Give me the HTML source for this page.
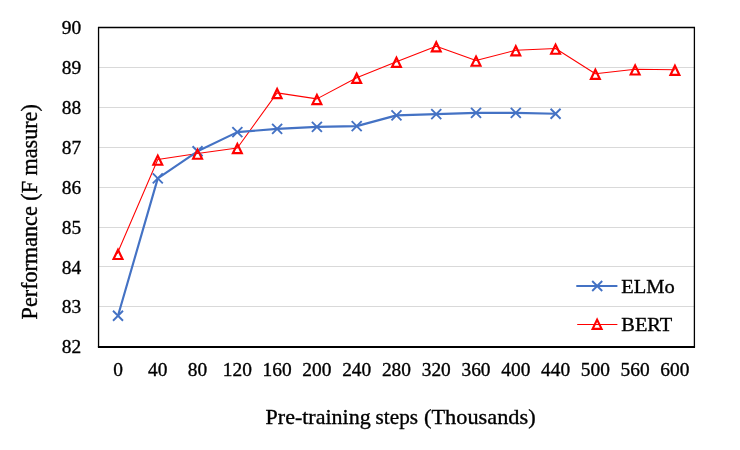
<!DOCTYPE html>
<html><head><meta charset="utf-8"><title>chart</title>
<style>
html,body{margin:0;padding:0;background:#fff;}
svg{display:block;}
text{font-family:"Liberation Serif",serif;fill:#000;stroke:#000;stroke-width:0.35px;}
</style></head><body>
<svg width="740" height="450" viewBox="0 0 740 450">
<rect x="0" y="0" width="740" height="450" fill="#ffffff"/>
<line x1="98.55" x2="694.4" y1="306.50" y2="306.50" stroke="#d9d9d9" stroke-width="1"/>
<line x1="98.55" x2="694.4" y1="266.50" y2="266.50" stroke="#d9d9d9" stroke-width="1"/>
<line x1="98.55" x2="694.4" y1="227.50" y2="227.50" stroke="#d9d9d9" stroke-width="1"/>
<line x1="98.55" x2="694.4" y1="187.50" y2="187.50" stroke="#d9d9d9" stroke-width="1"/>
<line x1="98.55" x2="694.4" y1="147.50" y2="147.50" stroke="#d9d9d9" stroke-width="1"/>
<line x1="98.55" x2="694.4" y1="107.50" y2="107.50" stroke="#d9d9d9" stroke-width="1"/>
<line x1="98.55" x2="694.4" y1="67.50" y2="67.50" stroke="#d9d9d9" stroke-width="1"/>
<polyline points="117.20,253.77 157.78,159.55 197.56,153.56 237.34,147.97 277.12,92.88 316.90,98.87 356.68,77.71 396.46,61.74 436.24,46.16 476.02,60.54 515.80,50.16 555.58,48.56 595.36,73.71 635.14,69.32 674.92,69.72" fill="none" stroke="#ff0000" stroke-width="1.05" stroke-linejoin="round"/>
<polyline points="118.00,315.76 157.78,178.42 197.56,151.27 237.34,132.10 277.12,128.91 316.90,126.91 356.68,126.11 396.46,115.34 436.24,114.14 476.02,112.94 515.80,112.94 555.58,113.74" fill="none" stroke="#4472c4" stroke-width="2.15" stroke-linejoin="round" stroke-linecap="round"/>
<path d="M113.00,310.76 L123.00,320.76 M113.00,320.76 L123.00,310.76" fill="none" stroke="#4472c4" stroke-width="1.9"/>
<path d="M152.78,173.42 L162.78,183.42 M152.78,183.42 L162.78,173.42" fill="none" stroke="#4472c4" stroke-width="1.9"/>
<path d="M192.56,146.27 L202.56,156.27 M192.56,156.27 L202.56,146.27" fill="none" stroke="#4472c4" stroke-width="1.9"/>
<path d="M232.34,127.10 L242.34,137.10 M232.34,137.10 L242.34,127.10" fill="none" stroke="#4472c4" stroke-width="1.9"/>
<path d="M272.12,123.91 L282.12,133.91 M272.12,133.91 L282.12,123.91" fill="none" stroke="#4472c4" stroke-width="1.9"/>
<path d="M311.90,121.91 L321.90,131.91 M311.90,131.91 L321.90,121.91" fill="none" stroke="#4472c4" stroke-width="1.9"/>
<path d="M351.68,121.11 L361.68,131.11 M351.68,131.11 L361.68,121.11" fill="none" stroke="#4472c4" stroke-width="1.9"/>
<path d="M391.46,110.34 L401.46,120.34 M391.46,120.34 L401.46,110.34" fill="none" stroke="#4472c4" stroke-width="1.9"/>
<path d="M431.24,109.14 L441.24,119.14 M431.24,119.14 L441.24,109.14" fill="none" stroke="#4472c4" stroke-width="1.9"/>
<path d="M471.02,107.94 L481.02,117.94 M471.02,117.94 L481.02,107.94" fill="none" stroke="#4472c4" stroke-width="1.9"/>
<path d="M510.80,107.94 L520.80,117.94 M510.80,117.94 L520.80,107.94" fill="none" stroke="#4472c4" stroke-width="1.9"/>
<path d="M550.58,108.74 L560.58,118.74 M550.58,118.74 L560.58,108.74" fill="none" stroke="#4472c4" stroke-width="1.9"/>
<path d="M118.00,249.82 L122.45,258.97 L113.55,258.97 Z" fill="none" stroke="#ff0000" stroke-width="2.15" stroke-linejoin="miter"/>
<path d="M157.78,155.60 L162.23,164.75 L153.33,164.75 Z" fill="none" stroke="#ff0000" stroke-width="2.15" stroke-linejoin="miter"/>
<path d="M197.56,149.61 L202.01,158.76 L193.11,158.76 Z" fill="none" stroke="#ff0000" stroke-width="2.15" stroke-linejoin="miter"/>
<path d="M237.34,144.02 L241.79,153.17 L232.89,153.17 Z" fill="none" stroke="#ff0000" stroke-width="2.15" stroke-linejoin="miter"/>
<path d="M277.12,88.93 L281.57,98.08 L272.67,98.08 Z" fill="none" stroke="#ff0000" stroke-width="2.15" stroke-linejoin="miter"/>
<path d="M316.90,94.92 L321.35,104.07 L312.45,104.07 Z" fill="none" stroke="#ff0000" stroke-width="2.15" stroke-linejoin="miter"/>
<path d="M356.68,73.76 L361.13,82.91 L352.23,82.91 Z" fill="none" stroke="#ff0000" stroke-width="2.15" stroke-linejoin="miter"/>
<path d="M396.46,57.79 L400.91,66.94 L392.01,66.94 Z" fill="none" stroke="#ff0000" stroke-width="2.15" stroke-linejoin="miter"/>
<path d="M436.24,42.21 L440.69,51.36 L431.79,51.36 Z" fill="none" stroke="#ff0000" stroke-width="2.15" stroke-linejoin="miter"/>
<path d="M476.02,56.59 L480.47,65.74 L471.57,65.74 Z" fill="none" stroke="#ff0000" stroke-width="2.15" stroke-linejoin="miter"/>
<path d="M515.80,46.21 L520.25,55.36 L511.35,55.36 Z" fill="none" stroke="#ff0000" stroke-width="2.15" stroke-linejoin="miter"/>
<path d="M555.58,44.61 L560.03,53.76 L551.13,53.76 Z" fill="none" stroke="#ff0000" stroke-width="2.15" stroke-linejoin="miter"/>
<path d="M595.36,69.76 L599.81,78.91 L590.91,78.91 Z" fill="none" stroke="#ff0000" stroke-width="2.15" stroke-linejoin="miter"/>
<path d="M635.14,65.37 L639.59,74.52 L630.69,74.52 Z" fill="none" stroke="#ff0000" stroke-width="2.15" stroke-linejoin="miter"/>
<path d="M674.92,65.77 L679.37,74.92 L670.47,74.92 Z" fill="none" stroke="#ff0000" stroke-width="2.15" stroke-linejoin="miter"/>
<path d="M98.55,346.9 L98.55,27.5 L694.4,27.5 L694.4,346.9" fill="none" stroke="#000" stroke-width="1.3"/>
<line x1="97.89999999999999" x2="695.05" y1="347" y2="347" stroke="#000" stroke-width="2"/>
<text x="81.1" y="353.40" font-size="19.4" text-anchor="end">82</text>
<text x="81.1" y="313.47" font-size="19.4" text-anchor="end">83</text>
<text x="81.1" y="273.55" font-size="19.4" text-anchor="end">84</text>
<text x="81.1" y="233.62" font-size="19.4" text-anchor="end">85</text>
<text x="81.1" y="193.70" font-size="19.4" text-anchor="end">86</text>
<text x="81.1" y="153.77" font-size="19.4" text-anchor="end">87</text>
<text x="81.1" y="113.85" font-size="19.4" text-anchor="end">88</text>
<text x="81.1" y="73.93" font-size="19.4" text-anchor="end">89</text>
<text x="81.1" y="34.00" font-size="19.4" text-anchor="end">90</text>
<text x="118.00" y="375.5" font-size="19.4" text-anchor="middle">0</text>
<text x="157.78" y="375.5" font-size="19.4" text-anchor="middle">40</text>
<text x="197.56" y="375.5" font-size="19.4" text-anchor="middle">80</text>
<text x="237.34" y="375.5" font-size="19.4" text-anchor="middle">120</text>
<text x="277.12" y="375.5" font-size="19.4" text-anchor="middle">160</text>
<text x="316.90" y="375.5" font-size="19.4" text-anchor="middle">200</text>
<text x="356.68" y="375.5" font-size="19.4" text-anchor="middle">240</text>
<text x="396.46" y="375.5" font-size="19.4" text-anchor="middle">280</text>
<text x="436.24" y="375.5" font-size="19.4" text-anchor="middle">320</text>
<text x="476.02" y="375.5" font-size="19.4" text-anchor="middle">360</text>
<text x="515.80" y="375.5" font-size="19.4" text-anchor="middle">400</text>
<text x="555.58" y="375.5" font-size="19.4" text-anchor="middle">440</text>
<text x="595.36" y="375.5" font-size="19.4" text-anchor="middle">500</text>
<text x="635.14" y="375.5" font-size="19.4" text-anchor="middle">560</text>
<text x="674.92" y="375.5" font-size="19.4" text-anchor="middle">600</text>
<text y="424.4" font-size="22"><tspan x="265.6">Pre-training</tspan> <tspan x="375.6" textLength="42.4" lengthAdjust="spacingAndGlyphs">steps</tspan> <tspan x="424" textLength="111.6" lengthAdjust="spacingAndGlyphs">(Thousands)</tspan></text>
<text transform="translate(36.6,211.8) rotate(-90)" font-size="22.15" text-anchor="middle">Performance (F masure)</text>
<line x1="576.3" x2="617.4" y1="286" y2="286" stroke="#4472c4" stroke-width="2.1"/>
<path d="M592.20,281.00 L602.20,291.00 M592.20,291.00 L602.20,281.00" fill="none" stroke="#4472c4" stroke-width="1.9"/>
<text x="621.3" y="292.5" font-size="19.4" textLength="53.4" lengthAdjust="spacingAndGlyphs">ELMo</text>
<line x1="577.2" x2="617.4" y1="324.5" y2="324.5" stroke="#ff0000" stroke-width="1.1"/>
<path d="M597.10,319.65 L601.55,328.80 L592.65,328.80 Z" fill="none" stroke="#ff0000" stroke-width="2.15" stroke-linejoin="miter"/>
<text x="621.3" y="330.7" font-size="19.4" textLength="50.9" lengthAdjust="spacingAndGlyphs">BERT</text>
</svg>
</body></html>
